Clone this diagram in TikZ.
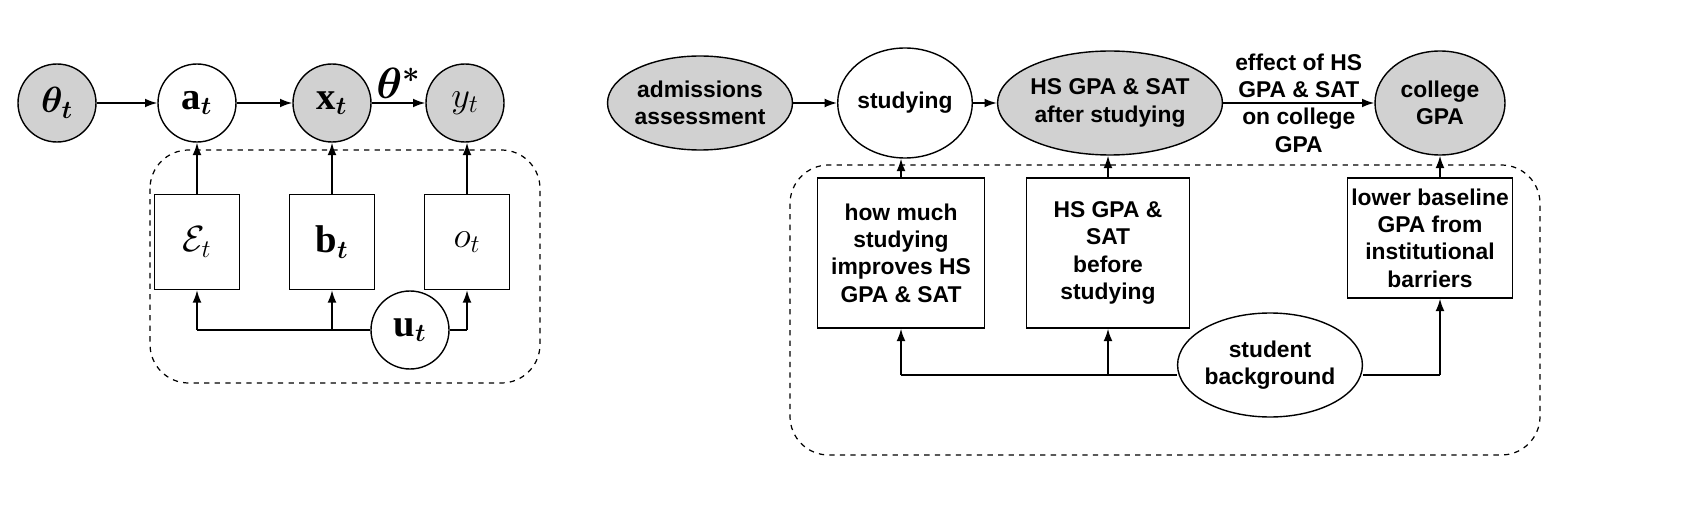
\documentclass[tikz,border=0pt]{standalone}
\usepackage{amsmath,bm}
\usepackage{fontspec}
\setmainfont{Liberation Sans}
\newfontfamily\serifb{Liberation Serif}
\usetikzlibrary{shapes.geometric,arrows.meta}
\newcommand{\sbold}[1]{\text{\serifb\bfseries #1}}
\begin{document}
\begin{tikzpicture}[x=0.02cm,y=-0.02cm,
  lat/.style={circle,draw,line width=0.8pt,minimum size=78*0.02cm,inner sep=0pt,font=\fontsize{22}{26}\selectfont},
  obs/.style={lat,fill=black!18},
  box/.style={draw,line width=0.8pt,minimum width=85*0.02cm,minimum height=95*0.02cm,font=\fontsize{22}{26}\selectfont},
  ell/.style={ellipse,draw,line width=0.8pt,inner sep=0pt,align=center,font=\bfseries\fontsize{13}{15.5}\selectfont},
  rbox/.style={draw,line width=0.8pt,align=center,inner sep=2pt,font=\bfseries\fontsize{13}{15.5}\selectfont},
  arr/.style={-{Latex[length=7pt,width=5pt]},line width=0.9pt},
  ln/.style={line width=0.9pt},
  dbox/.style={draw,dashed,rounded corners=22pt,line width=0.7pt}]
\useasboundingbox (0,0) rectangle (1693,513);
% left
\draw[dbox] (150,150) rectangle (540,383);
\node[obs] (th) at (57,103) {$\bm{\theta}_{\bm t}$};
\node[lat] (a) at (197,103) {$\sbold{a}_{\bm t}$};
\node[obs] (x) at (332,103) {$\sbold{x}_{\bm t}$};
\node[obs] (y) at (465,103) {$y_t$};
\node[box] (E) at (197,242) {$\mathcal{E}_t$};
\node[box] (b) at (332,242) {$\sbold{b}_{\bm t}$};
\node[box] (o) at (467,242) {$o_t$};
\node[lat] (u) at (410,330) {$\sbold{u}_{\bm t}$};
\draw[arr] (th) -- (a);
\draw[arr] (a) -- (x);
\draw[arr] (x) -- node[above=-1pt,font=\fontsize{24}{26}\selectfont]{$\bm{\theta}^{\bm *}$} (y);
\draw[arr] (E) -- (a);
\draw[arr] (b) -- (x);
\draw[arr] (o.north) -- (o.north|-y.south);
\coordinate (uL) at (197,330);
\coordinate (uR) at (467,330);
\draw[ln] (u) -- (uL);
\draw[arr] (uL) -- (E);
\draw[arr] (332,330) -- (b);
\draw[ln] (u) -- (uR);
\draw[arr] (uR) -- (o);
% right
\draw[dbox] (790,165) rectangle (1540,455);
\node[ell,fill=black!18,minimum width=150*0.02cm,minimum height=94*0.02cm] (adm) at (700,103) {admissions\\assessment};
\node[ell,minimum width=130*0.02cm,minimum height=110*0.02cm] (st) at (905,103) {studying};
\node[ell,fill=black!18,minimum width=200*0.02cm,minimum height=104*0.02cm] (hs) at (1110,103) {HS GPA \& SAT\\after studying};
\node[ell,fill=black!18,minimum width=130*0.02cm,minimum height=104*0.02cm] (cg) at (1440,103) {college\\GPA};
\node[rbox,minimum width=167*0.02cm,minimum height=150*0.02cm] (b1) at (901,253) {how much\\studying\\improves HS\\GPA \& SAT};
\node[rbox,minimum width=163*0.02cm,minimum height=150*0.02cm] (b2) at (1108,253) {HS GPA \&\\SAT\\before\\studying};
\node[rbox,minimum width=165*0.02cm,minimum height=120*0.02cm] (b3) at (1430,238) {lower baseline\\GPA from\\institutional\\barriers};
\node[ell,minimum width=140*0.02cm,minimum height=104*0.02cm] (sbg) at (1270,365) {student\\background};
\draw[arr] (adm) -- (st);
\draw[arr] (st) -- (hs);
\draw[arr] (hs) -- node[align=center,font=\bfseries\fontsize{13}{15.5}\selectfont]{effect of HS\\GPA \& SAT\\on college\\GPA} (cg);
\draw[arr] (b1) -- (b1.north|-st.south);
\draw[arr] (b2) -- (b2.north|-hs.south);
\draw[arr] (b3.north-|cg) -- (cg);
\coordinate (sL) at (901,375);
\coordinate (sR) at (1440,375);
\draw[ln] (sbg.west|-sL) -- (sL);
\draw[arr] (sL) -- (b1);
\draw[arr] (1108,375) -- (b2);
\draw[ln] (sbg.east|-sR) -- (sR);
\draw[arr] (sR) -- (sR|-b3.south);
\end{tikzpicture}
\end{document}
